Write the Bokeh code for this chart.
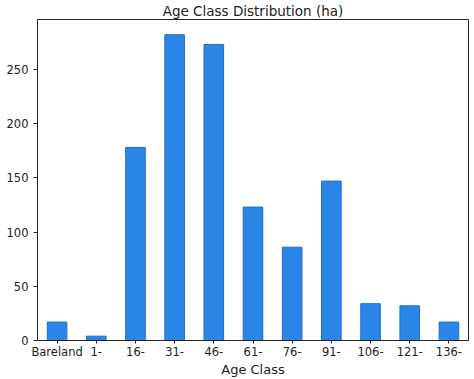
from bokeh.plotting import figure
from bokeh.models import ColumnDataSource, FactorRange, Range1d, FixedTicker
from bokeh.embed import file_html
from bokeh.resources import INLINE

categories = ["Bareland", "1-", "16-", "31-", "46-", "61-", "76-", "91-", "106-", "121-", "136-"]
area_ha = [17, 4, 178, 282, 273, 123, 86, 147, 34, 32, 17]
y_ticks = [0, 50, 100, 150, 200, 250]

FONT = "DejaVu Sans"
INK = "#222222"

src = ColumnDataSource(data=dict(cat=categories, val=area_ha))

p = figure(
    x_range=FactorRange(*categories),
    y_range=Range1d(0, 296),
    width=474, height=379,
    output_backend="svg", toolbar_location=None,
    min_border_left=37, min_border_right=6, min_border_top=0, min_border_bottom=39,
    title="Age Class Distribution (ha)",
)
p.title.align = "center"
p.title.text_font = FONT
p.title.text_font_size = "13.5px"
p.title.text_font_style = "normal"
p.title.text_color = INK
p.title.standoff = 1
p.title.offset = 0

p.background_fill_color = "white"
p.border_fill_color = "white"
p.outline_line_color = INK
p.outline_line_width = 1
p.outline_line_alpha = 1.0

p.vbar(x="cat", top="val", width=0.5, source=src,
       fill_color="#2b86e8", line_color="#1d6fc9", line_width=1)

p.xgrid.visible = False
p.ygrid.visible = False

p.yaxis.ticker = FixedTicker(ticks=y_ticks)
for ax in (p.xaxis[0], p.yaxis[0]):
    ax.major_tick_in = 0
    ax.minor_tick_out = 0
    ax.minor_tick_in = 0
    ax.major_tick_line_color = INK
    ax.axis_line_color = INK
    ax.major_label_text_font = FONT
    ax.major_label_text_font_size = "11.5px"
    ax.major_label_text_color = INK
p.xaxis.major_tick_out = 3
p.yaxis.major_tick_out = 4
p.xaxis.major_label_standoff = 1
p.yaxis.major_label_standoff = 5

p.xaxis.axis_label = "Age Class"
p.xaxis.axis_label_text_font = FONT
p.xaxis.axis_label_text_font_size = "13px"
p.xaxis.axis_label_text_font_style = "normal"
p.xaxis.axis_label_text_color = INK
p.xaxis.axis_label_standoff = 0

open("out.html", "w").write(file_html(p, INLINE))
